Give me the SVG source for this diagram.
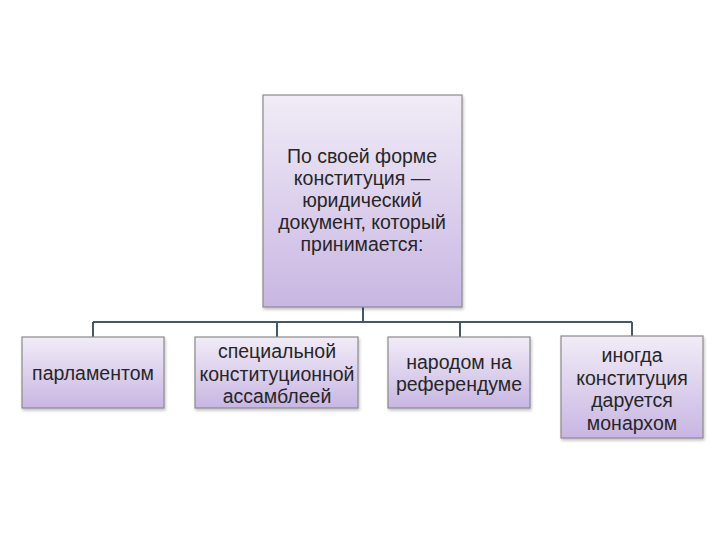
<svg xmlns="http://www.w3.org/2000/svg" width="720" height="540" viewBox="0 0 720 540">
<defs>
<linearGradient id="g" x1="0" y1="0" x2="0" y2="1">
<stop offset="0" stop-color="#F1ECF7"/>
<stop offset="1" stop-color="#C8B6E2"/>
</linearGradient>
<filter id="sh" x="-10%" y="-10%" width="130%" height="130%">
<feGaussianBlur in="SourceAlpha" stdDeviation="1.5"/>
<feOffset dx="1" dy="2" result="b"/>
<feComponentTransfer><feFuncA type="linear" slope="0.25"/></feComponentTransfer>
<feMerge><feMergeNode/><feMergeNode in="SourceGraphic"/></feMerge>
</filter>
</defs>
<style>
.box{fill:url(#g);stroke:#8A8A8A;stroke-width:1.2;filter:url(#sh)}
.t{font-family:"Liberation Sans",Arial,sans-serif;font-size:19.5px;fill:#262626;text-anchor:middle}
.c{fill:none;stroke:#45586A;stroke-width:2}
</style>
<rect width="720" height="540" fill="#fff"/>
<g id="connectors">
<path class="c" d="M363 307V322M93 322H632M93 322V337M277 322V337M460 322V337M632 322V336"/>
</g>
<g id="root">
<rect class="box" x="263" y="95" width="199" height="212"/>
<text class="t"><tspan x="362" y="163">По своей форме</tspan><tspan x="362" y="185">конституция —</tspan><tspan x="362" y="207">юридический</tspan><tspan x="362" y="229">документ, который</tspan><tspan x="362" y="251">принимается:</tspan></text>
</g>
<g id="n1">
<rect class="box" x="22" y="337" width="142" height="71"/>
<text class="t" x="93" y="380">парламентом</text>
</g>
<g id="n2">
<rect class="box" x="195" y="337" width="163" height="71"/>
<text class="t"><tspan x="277" y="358">специальной</tspan><tspan x="277" y="381">конституционной</tspan><tspan x="277" y="403">ассамблеей</tspan></text>
</g>
<g id="n3">
<rect class="box" x="388" y="337" width="142" height="71"/>
<text class="t"><tspan x="459" y="369">народом на</tspan><tspan x="459" y="391">референдуме</tspan></text>
</g>
<g id="n4">
<rect class="box" x="561" y="336" width="142" height="102"/>
<text class="t"><tspan x="632" y="362">иногда</tspan><tspan x="632" y="385">конституция</tspan><tspan x="632" y="407">даруется</tspan><tspan x="632" y="430">монархом</tspan></text>
</g>
</svg>
